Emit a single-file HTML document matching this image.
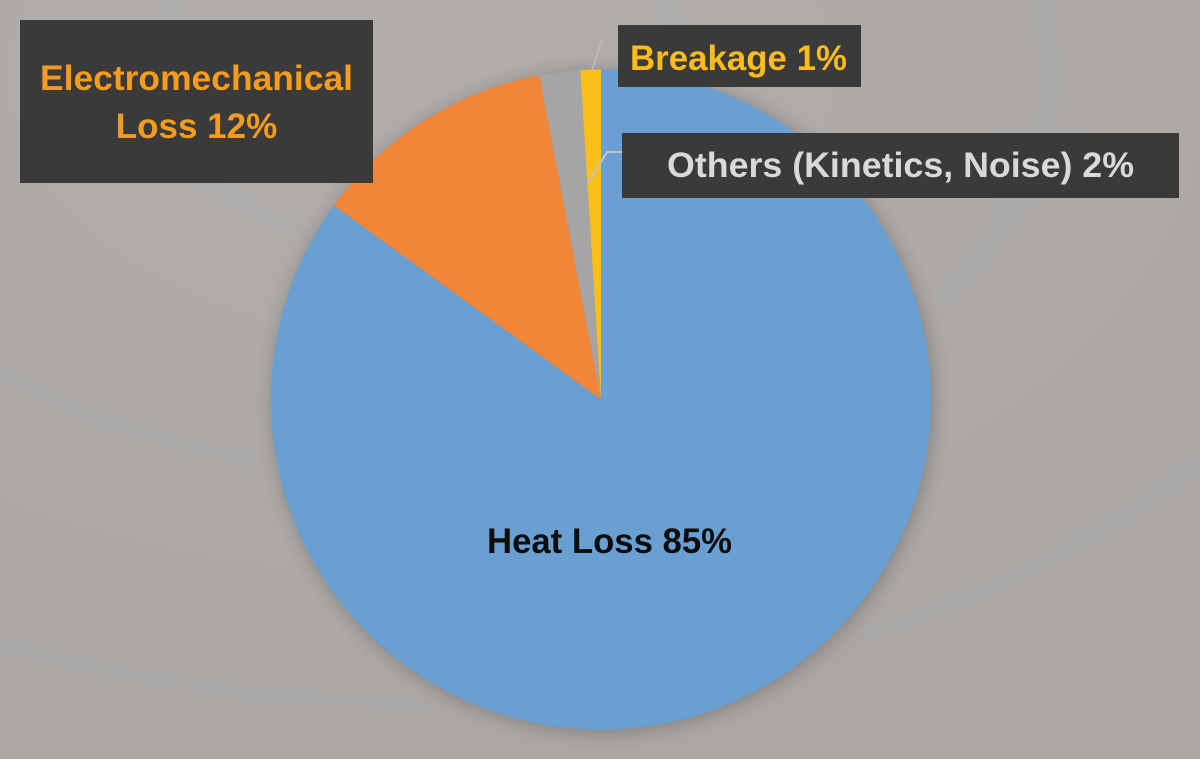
<!DOCTYPE html>
<html>
<head>
<meta charset="utf-8">
<style>
  html,body{margin:0;padding:0;}
  body{width:1200px;height:759px;overflow:hidden;background:#aba8a6;}
  svg{display:block;}
  text{font-family:"Liberation Sans",Arial,sans-serif;font-weight:bold;font-size:35px;}
</style>
</head>
<body>
<svg width="1200" height="759" viewBox="0 0 1200 759" xmlns="http://www.w3.org/2000/svg">
  <defs>
    <filter id="sh" x="-20%" y="-20%" width="140%" height="140%">
      <feGaussianBlur stdDeviation="9"/>
    </filter>
    <radialGradient id="bg" cx="0.35" cy="0.1" r="0.9">
      <stop offset="0" stop-color="#b0adab"/>
      <stop offset="1" stop-color="#aaa7a5"/>
    </radialGradient>
  </defs>
  <rect width="1200" height="759" fill="url(#bg)"/>
  <!-- shadow -->
  <circle cx="603" cy="402" r="331" fill="#000" opacity="0.22" filter="url(#sh)"/>
  <!-- slices -->
  <path d="M601,399.5 L601,69.5 A330,330 0 1 1 334,205.5 Z" fill="#6a9fd2"/>
  <path d="M601,399.5 L334,205.5 A330,330 0 0 1 539.2,75.3 Z" fill="#f28536"/>
  <path d="M601,399.5 L539.2,75.3 A330,330 0 0 1 580.3,70.2 Z" fill="#a5a5a5"/>
  <path d="M601,399.5 L580.3,70.2 A330,330 0 0 1 601,69.5 Z" fill="#fbbf1c"/>
  <!-- leader lines -->
  <polyline points="588,183 607,152 622,152" fill="none" stroke="#c4c4c4" stroke-width="2"/>
  <line x1="592" y1="70" x2="602" y2="40" stroke="#c8c8c8" stroke-width="1.5" opacity="0.7"/>
  <!-- label boxes -->
  <rect x="20" y="20" width="353" height="163" fill="#3a3a3a"/>
  <text x="196.5" y="90" text-anchor="middle" fill="#f39c1e" textLength="313" lengthAdjust="spacingAndGlyphs">Electromechanical</text>
  <text x="196.5" y="138" text-anchor="middle" fill="#f39c1e">Loss 12%</text>

  <rect x="618" y="25" width="243" height="62" fill="#3a3a3a"/>
  <text x="630" y="70" fill="#fbbc1c" textLength="217" lengthAdjust="spacingAndGlyphs">Breakage 1%</text>

  <rect x="622" y="133" width="557" height="65" fill="#3a3a3a"/>
  <text x="667" y="177" fill="#d9d9d9" textLength="467" lengthAdjust="spacingAndGlyphs">Others (Kinetics, Noise) 2%</text>

  <text x="487" y="553" fill="#0d0d0d" textLength="245" lengthAdjust="spacingAndGlyphs">Heat Loss 85%</text>
</svg>
</body>
</html>
